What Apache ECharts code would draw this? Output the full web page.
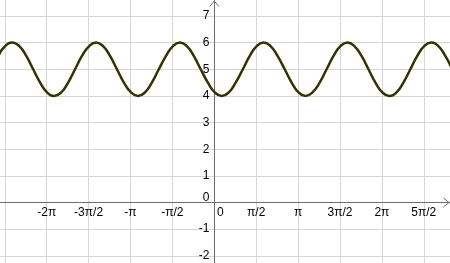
<!DOCTYPE html>
<html>
<head>
<meta charset="utf-8">
<script src="https://cdn.jsdelivr.net/npm/echarts@6/dist/echarts.min.js"></script>
<style>
html,body{margin:0;padding:0;background:#fff;}
#c{width:450px;height:263px;}
</style>
</head>
<body>
<div id="c"></div>
<script>
var curveX = [-8.10,-7.84,-7.57,-7.31,-7.05,-6.79,-6.53,-6.27,-6.00,-5.74,-5.48,-5.22,
  -4.96,-4.69,-4.43,-4.17,-3.91,-3.65,-3.39,-3.12,-2.86,-2.60,-2.34,-2.08,
  -1.81,-1.55,-1.29,-1.03,-0.77,-0.51,-0.24,0.02,0.28,0.54,0.80,1.07,
  1.33,1.59,1.85,2.11,2.37,2.64,2.90,3.16,3.42,3.68,3.95,4.21,
  4.47,4.73,4.99,5.25,5.52,5.78,6.04,6.30,6.56,6.83,7.09,7.35,
  7.61,7.87,8.13,8.40,8.66,8.92];
var curveY = [5.5,5.87,6,5.87,5.5,5,4.5,4.13,4,4.13,4.5,5,
  5.5,5.87,6,5.87,5.5,5,4.5,4.13,4,4.13,4.5,5,
  5.5,5.87,6,5.87,5.5,5,4.5,4.13,4,4.13,4.5,5,
  5.5,5.87,6,5.87,5.5,5,4.5,4.13,4,4.13,4.5,5,
  5.5,5.87,6,5.87,5.5,5,4.5,4.13,4,4.13,4.5,5,
  5.5,5.87,6,5.87,5.5,5];
// x tick labels (in multiples of pi/2)
var xTickUnits = [-4,-3,-2,-1,0,1,2,3,4,5];
var xTickLabels = ['-2π','-3π/2','-π','-π/2','0','π/2','π','3π/2','2π','5π/2'];
// y tick labels
var yTickValues = [-2,-1,0,1,2,3,4,5,6,7];

var HALF_PI = Math.PI / 2;
var data = curveX.map(function (x, i) { return [x, curveY[i]]; });

var chart = echarts.init(document.getElementById('c'), null, {renderer: 'canvas'});
var axisColor = '#6e6e6e';
var gridColor = '#d6d6d6';
var font = 'Liberation Sans, Arial, sans-serif';

// layout: pixel placement of the grid so that the origin sits where the reference has it
var W = 450, H = 263;
var originPx = [214.3, 202.5];
var pxPerX = 41.9 / HALF_PI, pxPerY = 26.65;
var xMin = -3 * Math.PI, xMax = 3 * Math.PI, yMin = -3, yMax = 8;
var gLeft = originPx[0] + xMin * pxPerX;
var gRight = W - (originPx[0] + xMax * pxPerX);
var gTop = originPx[1] - yMax * pxPerY;
var gBottom = H - (originPx[1] - yMin * pxPerY);

chart.setOption({
  animation: false,
  backgroundColor: '#ffffff',
  grid: {left: gLeft, right: gRight, top: gTop, bottom: gBottom, containLabel: false, outerBoundsMode: 'none'},
  xAxis: {
    type: 'value', min: xMin, max: xMax, interval: HALF_PI,
    position: 'bottom', offset: yMin * pxPerY,
    axisLine: {show: true, onZero: false, lineStyle: {color: axisColor, width: 1}},
    axisTick: {show: false},
    splitLine: {show: true, lineStyle: {color: gridColor, width: 1}},
    axisLabel: {
      show: true, margin: 4, color: '#000', fontSize: 12, fontFamily: font,
      showMinLabel: true, showMaxLabel: true, hideOverlap: false,
      formatter: function (v) {
        var k = Math.round(v / HALF_PI);
        var idx = xTickUnits.indexOf(k);
        if (idx < 0) return '';
        if (k === 0) return '{z|0}';
        return xTickLabels[idx];
      },
      rich: {z: {padding: [0, 0, 0, 12], fontSize: 12, fontFamily: font, color: '#000'}}
    }
  },
  yAxis: {
    type: 'value', min: yMin, max: yMax, interval: 1,
    position: 'left', offset: xMin * pxPerX,
    axisLine: {show: true, onZero: false, lineStyle: {color: axisColor, width: 1}},
    axisTick: {show: false},
    splitLine: {show: true, lineStyle: {color: gridColor, width: 1}},
    axisLabel: {
      show: true, margin: 5, color: '#000', fontSize: 12, fontFamily: font,
      showMinLabel: true, showMaxLabel: true, hideOverlap: false,
      formatter: function (v) {
        var r = Math.round(v);
        if (yTickValues.indexOf(r) < 0) return '';
        if (r === 0) return '{z|0}';
        return String(r);
      },
      rich: {z: {padding: [0, 0, 9, 0], fontSize: 12, fontFamily: font, color: '#000'}}
    }
  },
  series: [{
    type: 'line',
    data: data,
    smooth: 0.5,
    showSymbol: false,
    symbol: 'none',
    lineStyle: {color: '#333300', width: 2.5},
    z: 5
  }]
});

// axis arrowheads (decoration), placed via the axes' own scales
var origin = chart.convertToPixel({gridIndex: 0}, [0, 0]);
chart.setOption({
  graphic: [
    {type: 'polyline', shape: {points: [[443.5, origin[1] - 4.5], [449, origin[1]], [443.5, origin[1] + 4.5]]},
      style: {stroke: axisColor, lineWidth: 1, fill: null}, z: 10},
    {type: 'polyline', shape: {points: [[origin[0] - 4.5, 6.5], [origin[0], 1], [origin[0] + 4.5, 6.5]]},
      style: {stroke: axisColor, lineWidth: 1, fill: null}, z: 10}
  ]
});
</script>
</body>
</html>
